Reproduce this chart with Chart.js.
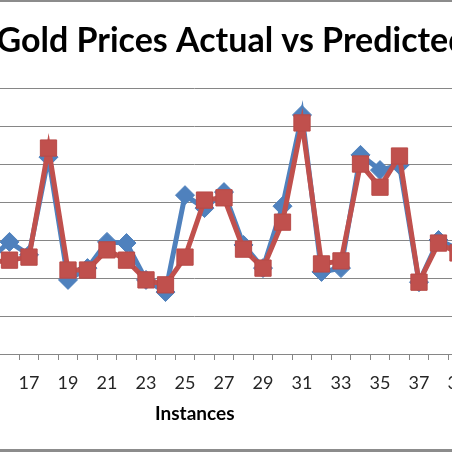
<!DOCTYPE html>
<html>
<head>
<meta charset="utf-8">
<script src="https://cdn.jsdelivr.net/npm/chart.js@4.4.1/dist/chart.umd.min.js"></script>
<style>
  html, body { margin: 0; padding: 0; width: 452px; height: 452px; overflow: hidden; background: #ffffff; }
  #wrap { position: absolute; left: -160px; top: 0; width: 784px; height: 452px; }
  #frame { position: absolute; left: 0; top: 0; width: 452px; height: 452px; box-sizing: border-box;
           border-top: 2px solid #8c8c8c; border-bottom: 3px solid #8c8c8c; pointer-events: none; }
</style>
</head>
<body>
<div id="wrap"><canvas id="c"></canvas></div>
<div id="frame"></div>
<script>
// Instance numbers (x categories); only odd ones carry a visible label
const categories = [11,12,13,14,15,16,17,18,19,20,21,22,23,24,25,26,27,28,29,30,31,32,33,34,35,36,37,38,39,40];
// Actual gold prices (blue diamonds); null = outside the visible crop
const actual = [null,null,null,null,1250,1295,1261,1518,1195,1226,1295,1292,1195,1163,1418,1384,1426,1287,1226,1389,1629,1216,1226,1524,1484,1497,1189,1300,1276,null];
// Predicted gold prices (red squares)
const predicted = [null,null,null,null,1240,1247,1255,1542,1221,1221,1274,1247,1195,1182,1255,1405,1411,1276,1226,1347,1608,1237,1245,1500,1439,1521,1189,1292,1266,null];
// Value axis range (its tick labels lie outside the crop)
const yMin = 1000, yMax = 1700, yStep = 100;

const gridGray = '#868686';
const FONT = 'Lato';

new Chart(document.getElementById('c'), {
  type: 'line',
  data: {
    labels: categories,
    datasets: [
      {
        label: 'Actual',
        data: actual,
        borderColor: '#4F81BD',
        backgroundColor: '#4F81BD',
        pointBackgroundColor: '#4F81BD',
        pointBorderColor: '#4F81BD',
        borderWidth: 5,
        pointStyle: 'rectRot',
        pointRadius: 9.5,
        pointBorderWidth: 1,
        tension: 0,
        order: 2
      },
      {
        label: 'Predicted',
        data: predicted,
        borderColor: '#C0504D',
        backgroundColor: '#C0504D',
        pointBackgroundColor: '#C0504D',
        pointBorderColor: '#B84A47',
        borderWidth: 5,
        pointStyle: 'rect',
        pointRadius: 11.5,
        pointBorderWidth: 1,
        tension: 0,
        order: 1
      }
    ]
  },
  options: {
    responsive: true,
    maintainAspectRatio: false,
    animation: false,
    layout: { padding: 0 },
    plugins: {
      legend: { display: false },
      tooltip: { enabled: false },
      title: {
        display: true,
        text: 'Gold Prices Actual vs Predicted',
        color: '#000000',
        font: { family: FONT, size: 34, weight: 'bold', lineHeight: 1.2 },
        padding: { top: 21, bottom: 26.2 }
      }
    },
    scales: {
      x: {
        type: 'category',
        offset: true,
        grid: { display: true, drawOnChartArea: false, drawTicks: true, tickLength: 6, offset: true, color: gridGray, lineWidth: 1 },
        border: { display: true, color: gridGray, width: 1 },
        ticks: {
          autoSkip: false, maxRotation: 0, minRotation: 0, padding: 12,
          color: '#262626',
          font: { family: FONT, size: 18 },
          callback: function(value, index) { const n = categories[index]; return n % 2 === 1 ? String(n) : ''; }
        },
        title: {
          display: true, text: 'Instances', color: '#000000',
          font: { family: FONT, size: 19, weight: 'bold', lineHeight: 1.2 },
          padding: { top: 4, bottom: 27 }
        },
        afterFit: function(scale) { scale.height = 98; }
      },
      y: {
        type: 'linear',
        position: 'left',
        min: yMin, max: yMax,
        ticks: { display: false, stepSize: yStep },
        grid: { color: gridGray, lineWidth: 1, drawTicks: false },
        border: { display: false },
        afterFit: function(scale) { scale.width = 62.25; }
      },
      yR: {
        type: 'linear',
        position: 'right',
        display: true,
        min: yMin, max: yMax,
        ticks: { display: false },
        grid: { display: false, drawTicks: false },
        border: { display: false },
        afterFit: function(scale) { scale.width = 136.75; }
      }
    }
  }
});
</script>
</body>
</html>
